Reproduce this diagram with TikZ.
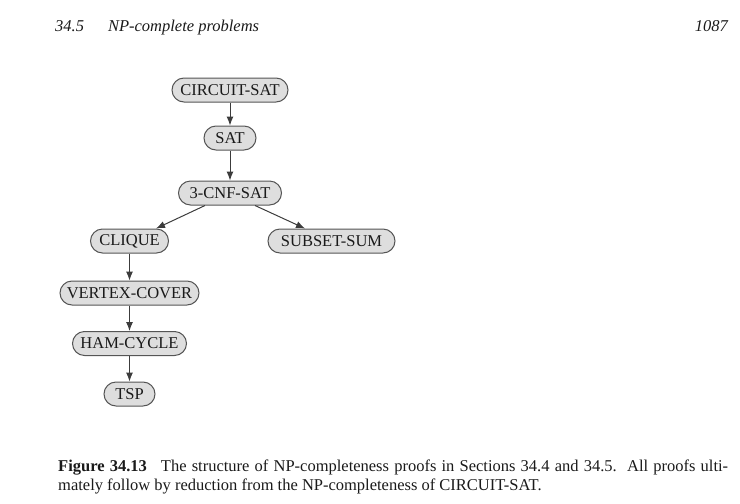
\documentclass[tikz,border=0pt]{standalone}
\usepackage{fontspec}
\setmainfont{Liberation Serif}
\usetikzlibrary{arrows.meta,calc}
\definecolor{boxfill}{HTML}{DEDEDE}
\definecolor{boxline}{HTML}{555555}
\definecolor{arrowcol}{HTML}{3C3C3C}
\definecolor{txt}{HTML}{1A1A1A}
\tikzset{
  prob/.style={draw=boxline, fill=boxfill, line width=1pt, rounded corners=12pt,
    minimum height=24pt, inner sep=0pt, text=txt, font=\fontsize{16.5}{19}\selectfont},
  red/.style={draw=arrowcol, line width=1pt, -{Latex[length=9pt,width=7pt]}},
  plain/.style={inner sep=0pt, text=txt, font=\fontsize{16.5}{19}\selectfont}
}
\begin{document}
\begin{tikzpicture}[x=1pt,y=-1pt]
\useasboundingbox (0,0) rectangle (740,504);
% header
\node[plain, anchor=base west] (hdr) at (55,31.7) {\itshape 34.5\hspace{24pt}NP-complete problems};
\node[plain, anchor=base east] (pg) at (728,31.7) {\itshape 1087};
% nodes
\node[prob, minimum width=116pt] (cs) at (230,90) {CIRCUIT-SAT};
\node[prob, minimum width=52pt] (sat) at (230,138) {SAT};
\node[prob, minimum width=103pt] (cnf) at (230,193) {3-CNF-SAT};
\node[prob, minimum width=78pt] (clq) at (129.5,241) {CLIQUE};
\node[prob, minimum width=127pt] (ss) at (331.5,241) {SUBSET-SUM};
\node[prob, minimum width=139pt] (vc) at (129.5,293) {VERTEX-COVER};
\node[prob, minimum width=114pt] (hc) at (129.5,343.5) {HAM-CYCLE};
\node[prob, minimum width=51pt] (tsp) at (129.5,394) {TSP};
% arrows
\draw[red] (cs) -- (sat);
\draw[red] (sat) -- (cnf);
\draw[red] ($(cnf.south)+(-25,0)$) -- ($(clq.north)+(26.5,0)$);
\draw[red] ($(cnf.south)+(25,0)$) -- ($(ss.north)+(-26.5,0)$);
\draw[red] (clq) -- (vc);
\draw[red] (vc) -- (hc);
\draw[red] (hc) -- (tsp);
% caption
\node[plain, anchor=base west] (cap1) at (58,471.7) {\makebox[670pt][s]{\textbf{Figure 34.13}\hspace{14pt}The structure of NP-completeness proofs in Sections 34.4 and 34.5.\ \ All proofs ulti-}};
\node[plain, anchor=base west] (cap2) at (58,490) {mately follow by reduction from the NP-completeness of CIRCUIT-SAT.};
\end{tikzpicture}
\end{document}
